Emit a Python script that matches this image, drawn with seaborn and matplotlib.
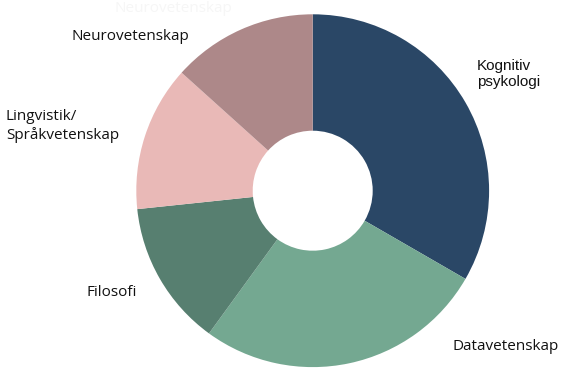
import matplotlib
matplotlib.use("Agg")
import matplotlib.pyplot as plt
import seaborn as sns

categories = ["Kognitiv\npsykologi", "Datavetenskap", "Filosofi",
              "Lingvistik/\nSpråkvetenskap", "Neurovetenskap"]
values = [5, 4, 2, 2, 2]
colors = ["#2a4766", "#74a891", "#577f70", "#e9b9b7", "#ad8889"]

sns.set_theme(style="white")
plt.rcParams["font.family"] = ["Open Sans", "DejaVu Sans"]

W, H = 561, 381
fig = plt.figure(figsize=(W / 100, H / 100), dpi=100)
ax = fig.add_axes([0, 0, 1, 1])

cx, cy, r_out, r_in = 312.7, H - 190.7, 176.4, 60.0
palette = sns.color_palette(colors)
ax.pie(values, colors=palette, startangle=90, counterclock=False,
       center=(cx, cy), radius=r_out,
       wedgeprops=dict(width=r_out - r_in, linewidth=0))
ax.set_xlim(0, W)
ax.set_ylim(0, H)
ax.set_aspect("equal")
ax.axis("off")

fs = 11
ax.text(72, H - 37, categories[4], fontsize=fs, ha="left", va="center", color="#111111")
ax.text(6, H - 126, categories[3], fontsize=fs, ha="left", va="center",
        color="#111111", linespacing=1.2)
ax.text(477, H - 74, categories[0], fontsize=fs, ha="left", va="center",
        color="#111111", linespacing=1.15, family=["Liberation Sans", "DejaVu Sans"])
ax.text(453, H - 347, categories[1], fontsize=fs, ha="left", va="center", color="#111111")
ax.text(87, H - 293, categories[2], fontsize=fs, ha="left", va="center", color="#111111")
# faint ghost label at top
ax.text(115, H - 9, categories[4], fontsize=fs, ha="left", va="center", color="#f6f6f6")

fig.savefig("out.png", dpi=100)
